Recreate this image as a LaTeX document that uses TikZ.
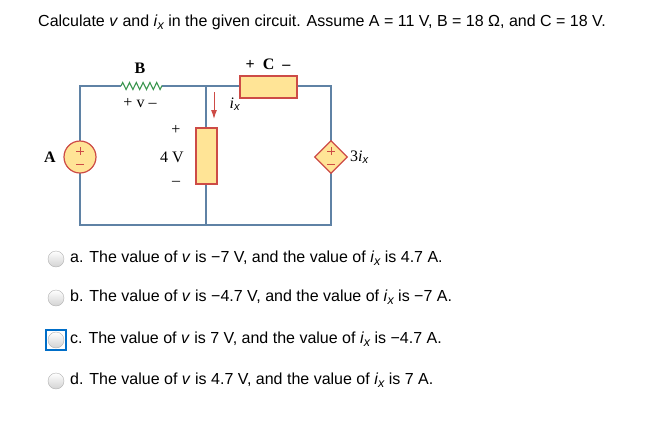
\documentclass[tikz,border=0pt]{standalone}
\usepackage{fontspec}
\setmainfont{Liberation Sans}
\newfontfamily\ser{Liberation Serif}
\usetikzlibrary{shapes.geometric,decorations.pathmorphing,arrows.meta}
\definecolor{wire}{RGB}{95,130,165}
\definecolor{boxf}{RGB}{255,228,150}
\definecolor{boxd}{RGB}{205,75,70}
\definecolor{resg}{RGB}{60,150,80}
\definecolor{selb}{RGB}{0,110,200}
\newcommand{\sx}{\raisebox{-3.5pt}{\fontsize{12.5}{12}\selectfont\itshape x}}
\tikzset{
 w/.style={draw=wire,line width=1.2pt},
 elem/.style={draw=boxd,fill=boxf,line width=1.2pt},
 lbl/.style={font=\ser\fontsize{16}{16}\selectfont,inner sep=0pt},
 opt/.style={font=\fontsize{16}{18}\selectfont,anchor=west,inner sep=0pt},
 radio/.style={circle,draw=gray!60,top color=white,bottom color=gray!35,minimum size=16pt,inner sep=0pt}
}
\begin{document}
\begin{tikzpicture}[x=1pt,y=-1pt]
\useasboundingbox (0,0) rectangle (665,440);
\node[anchor=west,inner sep=0pt,font=\fontsize{16}{18}\selectfont] (title) at (38,22) {Calculate \textit{v} and \textit{i}\sx{} in the given circuit. Assume A = 11 V, B = 18 Ω, and C = 18 V.};
\coordinate (tl) at (80,86); \coordinate (tm) at (206,86); \coordinate (tr) at (331,86);
\coordinate (bl) at (80,225); \coordinate (bm) at (206,225); \coordinate (br) at (331,225);
\coordinate (r1) at (121,86); \coordinate (r2) at (162,86);
\draw[w] (80,141) -- (tl) -- (r1);
\draw[w] (r2) -- (240,86);
\draw[w] (297,86) -- (tr) -- (331,141);
\draw[w] (331,173) -- (br) -- (bl) -- (80,173);
\draw[w] (tm) -- (206,128);
\draw[w] (206,184) -- (bm);
\draw[draw=resg,line width=1.1pt,decorate,decoration={zigzag,segment length=6.8pt,amplitude=3.5pt}] (r1) -- (r2);
\node[elem,circle,minimum size=32pt,inner sep=0pt] (A) at (80,157) {};
\draw[boxd,line width=1pt] (76,151) -- (84,151) (80,147) -- (80,155) (76,164) -- (84,164);
\node[elem,rectangle,minimum width=57pt,minimum height=22pt,inner sep=0pt] (C) at (268.5,87) {};
\node[elem,rectangle,minimum width=21pt,minimum height=56pt,inner sep=0pt] (V4) at (206.5,156) {};
\node[elem,diamond,minimum width=33pt,minimum height=33pt,inner sep=0pt] (D) at (331,157) {};
\draw[boxd,line width=1pt] (327,151) -- (335,151) (331,147) -- (331,155) (327,164) -- (335,164);
\coordinate (a1) at (214,92); \coordinate (a2) at (214,119);
\draw[boxd,line width=1pt,-{Latex[length=9pt,width=6pt]}] (a1) -- (a2);
\node[lbl,font=\ser\bfseries\fontsize{16}{16}\selectfont] (lB) at (140,68) {B};
\node[lbl] (lv) at (140,103) {+ v –};
\node[lbl,font=\ser\bfseries\fontsize{16}{16}\selectfont] (lC) at (268,64) {+ \ C \ –};
\node[lbl] (lix) at (235,104) {\itshape i$_{\mathit{x}}$};
\node[lbl] (lp) at (176,130) {+};
\node[lbl] (l4) at (172,157) {4 V};
\node[lbl] (lm) at (176,183) {–};
\node[lbl,font=\ser\bfseries\fontsize{16}{16}\selectfont] (lA) at (50,157) {A};
\node[lbl,anchor=west] (l3) at (350,157) {3\itshape i$_{\mathit{x}}$};
\foreach \y/\n in {259/a,298/b,340/c,381/d} \node[radio] (r\n) at (56,\y) {};
\draw[selb,line width=1.4pt] (46,330) rectangle (66,350);
\node[opt] (oa) at (70,258) {a. The value of \textit{v} is −7 V, and the value of \textit{i}\sx{} is 4.7 A.};
\node[opt] (ob) at (70,297) {b. The value of \textit{v} is −4.7 V, and the value of \textit{i}\sx{} is −7 A.};
\node[opt] (oc) at (70,339) {c. The value of \textit{v} is 7 V, and the value of \textit{i}\sx{} is −4.7 A.};
\node[opt] (od) at (70,380) {d. The value of \textit{v} is 4.7 V, and the value of \textit{i}\sx{} is 7 A.};
\end{tikzpicture}
\end{document}
